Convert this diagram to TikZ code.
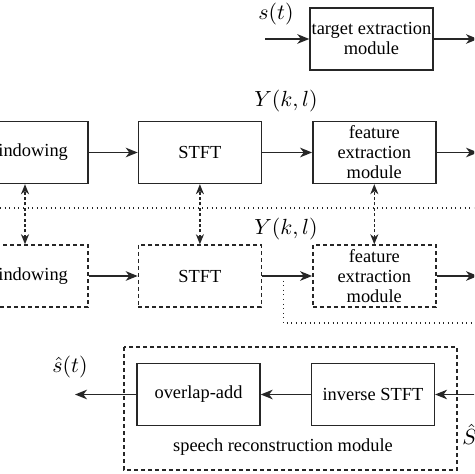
\documentclass[tikz,border=0pt]{standalone}
\usepackage{fontspec}
\setmainfont{Liberation Serif}
\usetikzlibrary{positioning,arrows.meta,calc}

\begin{document}
\begin{tikzpicture}[x=0.5pt, y=-0.5pt,
        font=\rmfamily\fontsize{9.2}{10}\selectfont,
        block/.style={rectangle, draw=black!85, line width=0.7pt, minimum width=61.5pt, minimum height=31pt, inner sep=0.5pt, align=center},
        dblock/.style={block, dash pattern=on 2pt off 1.5pt},
        sig/.style={draw=black!85, line width=0.7pt, -{Stealth[length=6pt, width=4.8pt, inset=1.8pt]}},
        link/.style={draw=black!85, line width=0.7pt, dash pattern=on 1.5pt off 1.2pt, {Stealth[length=5pt, width=4pt, inset=1.5pt]}-{Stealth[length=5pt, width=4pt, inset=1.5pt]}},
        sep/.style={draw=black!85, line width=0.6pt, dash pattern=on 0.5pt off 1.8pt},
        lbl/.style={font=\rmfamily\fontsize{10.5}{12}\selectfont},
        node distance=24.5pt,
        ]
            \useasboundingbox (0,0) rectangle (474,474);
            \clip (0,0) rectangle (474,474);

            % target
            \node[block]    (target)  at (371.5,39)                 {target extraction\\module};
            \node[lbl]      (s_lbl)   at (276,14)                   {$s(t)$};
            \coordinate     (s_in)    at (265,39);
            \coordinate     (t_out)   at (478,39);

            % upper chain
            \node[block]    (win_1)   at (26.5,152.5)               {windowing};
            \node[block]    (stft_1)  [right = 24.5pt of win_1]     {STFT};
            \node[block]    (feat_1)  [right = 25pt of stft_1]      {feature\\extraction\\module};
            \node[lbl]      (y_lbl_1) at (286,101)                  {$Y(k,l)$};
            \coordinate     (f_out_1) at (478,152.5);

            % lower chain
            \node[dblock]   (win_2)   at (26.5,276)                 {windowing};
            \node[dblock]   (stft_2)  [right = 24.5pt of win_2]     {STFT};
            \node[dblock]   (feat_2)  [right = 25pt of stft_2]      {feature\\extraction\\module};
            \node[lbl]      (y_lbl_2) at (286,229)                  {$Y(k,l)$};
            \coordinate     (f_out_2) at (478,276);

            % reconstruction
            \node[block]    (ola)     at (198.5,394.5)              {overlap-add};
            \node[block]    (istft)   [right = 25pt of ola]         {inverse STFT};
            \node           (rec_lbl) at (283,447)                  {speech reconstruction module};
            \node[lbl]      (sh_lbl)  at (70,367)                   {$\hat{s}(t)$};
            \node[lbl, anchor=west, inner sep=0pt] (S_lbl) at (462,437) {$\hat{S}(k,l)$};
            \coordinate     (S_in)    at (476,394.5);
            \coordinate     (sh_out)  at (75,394.5);
            \draw[black!85, line width=0.7pt, dash pattern=on 2pt off 1.5pt] (124,347) rectangle (457,470);

            % Lines
            \draw[sig] (s_in) -- (target);
            \draw[sig] (target) -- (t_out);
            \draw[sig] (win_1) -- (stft_1);
            \draw[sig] (stft_1) -- (feat_1);
            \draw[sig] (feat_1) -- (f_out_1);
            \draw[sig] (win_2) -- (stft_2);
            \draw[sig] (stft_2) -- (feat_2);
            \draw[sig] (feat_2) -- (f_out_2);
            \draw[sig] (S_in) -- (istft);
            \draw[sig] (istft) -- (ola);
            \draw[sig] (ola) -- (sh_out);

            % coupling
            \draw[link] (win_2.north -| 25,0) -- (win_1.south -| 25,0);
            \draw[link] (stft_2) -- (stft_1);
            \draw[link] (feat_2) -- (feat_1);

            % separators
            \coordinate (tap)    at ($(stft_2.east)!0.42!(feat_2.west)$);
            \coordinate (tap_e)  at (476,323);
            \draw[sep] (0,208) -- (476,208);
            \draw[sep] (tap) |- (tap_e);

        \end{tikzpicture}
\end{document}
